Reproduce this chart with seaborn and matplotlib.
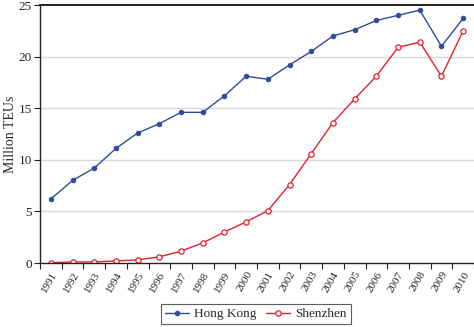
import numpy as np
import pandas as pd
import matplotlib
matplotlib.use("Agg")
import matplotlib.pyplot as plt
import seaborn as sns

years = [str(y) for y in range(1991, 2011)]
hong_kong = [6.2, 8.0, 9.2, 11.1, 12.6, 13.5, 14.6, 14.6, 16.2, 18.1,
             17.8, 19.2, 20.5, 22.0, 22.6, 23.5, 24.0, 24.5, 21.0, 23.7]
shenzhen = [0.03, 0.1, 0.1, 0.2, 0.3, 0.6, 1.15, 1.95, 3.0, 3.99,
            5.07, 7.6, 10.6, 13.6, 15.9, 18.1, 20.9, 21.4, 18.1, 22.5]
yticks = [0, 5, 10, 15, 20, 25]

sns.set_theme(style="white")
plt.rcParams["font.family"] = ["Liberation Serif", "DejaVu Serif"]

df = pd.DataFrame({
    "pos": list(range(len(years))) * 2,
    "teu": hong_kong + shenzhen,
    "port": ["Hong Kong"] * len(years) + ["Shenzhen"] * len(years),
})

fig = plt.figure(figsize=(4.74, 3.27), dpi=100)
ax = fig.add_axes([40 / 474, 64 / 327, 434 / 474, 258 / 327])

for h in yticks[1:-1]:
    ax.axhline(h, color="#d9d9d9", lw=1.0, zorder=0)

blue = "#2f4b9c"
red = "#e3212f"
sns.lineplot(data=df[df.port == "Hong Kong"], x="pos", y="teu", ax=ax,
             color=blue, lw=1.0, marker="o", markersize=3.2,
             markerfacecolor=blue, markeredgecolor=blue, label="Hong Kong")
sns.lineplot(data=df[df.port == "Shenzhen"], x="pos", y="teu", ax=ax,
             color=red, lw=1.0, marker="o", markersize=3.8,
             markerfacecolor="white", markeredgecolor=red, markeredgewidth=0.9,
             label="Shenzhen")

ax.set_xlim(-0.5, len(years) - 0.5)
ax.set_ylim(0, 25)
ax.set_yticks(yticks)
ax.set_yticklabels([str(t) for t in yticks], fontsize=9.5)

# category boundaries carry the tick marks, labels sit at category centres
ax.set_xticks(np.arange(-0.5, len(years), 1.0))
ax.set_xticklabels([])
ax.set_xticks(np.arange(len(years)), minor=True)
ax.set_xticklabels(years, minor=True, rotation=60, ha="right",
                   rotation_mode="anchor", fontsize=8)
ax.tick_params(axis="x", which="major", direction="out", length=4,
               width=0.8, color="#222222", bottom=True)
ax.tick_params(axis="x", which="minor", length=0, pad=5, bottom=True)
ax.tick_params(axis="y", direction="out", length=4, width=0.8,
               color="#222222", left=True, pad=2)

ax.set_xlabel("")
ax.set_ylabel("Million TEUs", fontsize=10, labelpad=1)

for side in ["left", "bottom", "top"]:
    ax.spines[side].set_visible(True)
    ax.spines[side].set_color("#222222")
    ax.spines[side].set_linewidth(1.0)
ax.spines["top"].set_linewidth(1.4)
ax.spines["right"].set_visible(False)

ax.get_legend().remove()
handles, labels = ax.get_legend_handles_labels()
leg = fig.legend(handles, labels, loc="lower center",
                 bbox_to_anchor=(256 / 474, -0.012), ncol=2, fontsize=9.5,
                 frameon=True, fancybox=False, edgecolor="#333333",
                 handlelength=1.8, handletextpad=0.4, columnspacing=0.7,
                 borderpad=0.3)
leg.get_frame().set_linewidth(0.8)

fig.savefig("out.png", dpi=100)
